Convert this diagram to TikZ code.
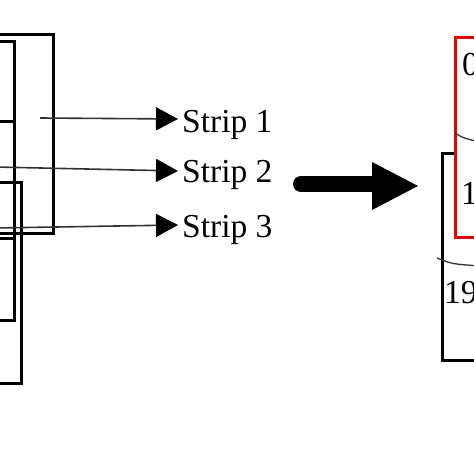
\documentclass[tikz,border=0pt]{standalone}
\usepackage{fontspec}
\setmainfont{Liberation Serif}
\usetikzlibrary{arrows.meta}
\begin{document}
\begin{tikzpicture}[x=1bp,y=-1bp,
  box/.style={line width=3bp,black},
  redbox/.style={line width=3bp,draw={rgb,255:red,225;green,0;blue,0}},
  thinline/.style={line width=1.6bp,draw={rgb,255:red,50;green,50;blue,50}},
  striparrow/.style={thinline,-{Triangle[length=22bp,width=23bp,fill=black,color=black]}},
  lbl/.style={inner sep=0pt,anchor=base west,font=\fontsize{33.5bp}{40bp}\selectfont},
  bigarrow/.style={line width=16bp,line cap=round}]
\useasboundingbox (0,0) rectangle (474,474);
\clip (0,0) rectangle (474,474);
% left structure
\draw[box] (-20,35) rectangle (53,233);
\draw[box] (-20,42) rectangle (14,320);
\draw[box] (-20,122) -- (14,122);
\draw[box] (-20,238) -- (14,238);
\draw[box] (-20,183) rectangle (21,383);
% strip arrows
\coordinate (a1) at (40,118);
\coordinate (a2) at (-5,167);
\coordinate (a3) at (-5,228);
\coordinate (e1) at (178,119);
\coordinate (e2) at (178,171);
\coordinate (e3) at (178,225);
\draw[striparrow] (a1) -- (e1);
\draw[striparrow] (a2) -- (e2);
\draw[striparrow] (a3) -- (e3);
\node[lbl] (s1) at (182,133) {Strip 1};
\node[lbl] (s2) at (182,183) {Strip 2};
\node[lbl] (s3) at (182,237) {Strip 3};
% big arrow
\coordinate (b1) at (301,184);
\coordinate (b2) at (376,184);
\draw[bigarrow] (b1) -- (b2);
\fill (372,162) -- (418,186) -- (372,210) -- cycle;
% right structure
\draw[box] (455,154) -- (442,154) -- (442,360) -- (490,360);
\draw[redbox] (490,38) -- (455,38) -- (455,237) -- (490,237);
\draw[thinline,line width=1.3bp] (455,133) .. controls (463,138) .. (480,142);
\draw[thinline,line width=1.3bp] (437,258) .. controls (452,264) .. (480,266);
\node[lbl] (t0) at (462,76) {0};
\node[lbl] (t1) at (461,205) {1};
\node[lbl] (t19) at (444,303) {19};
\end{tikzpicture}
\end{document}
